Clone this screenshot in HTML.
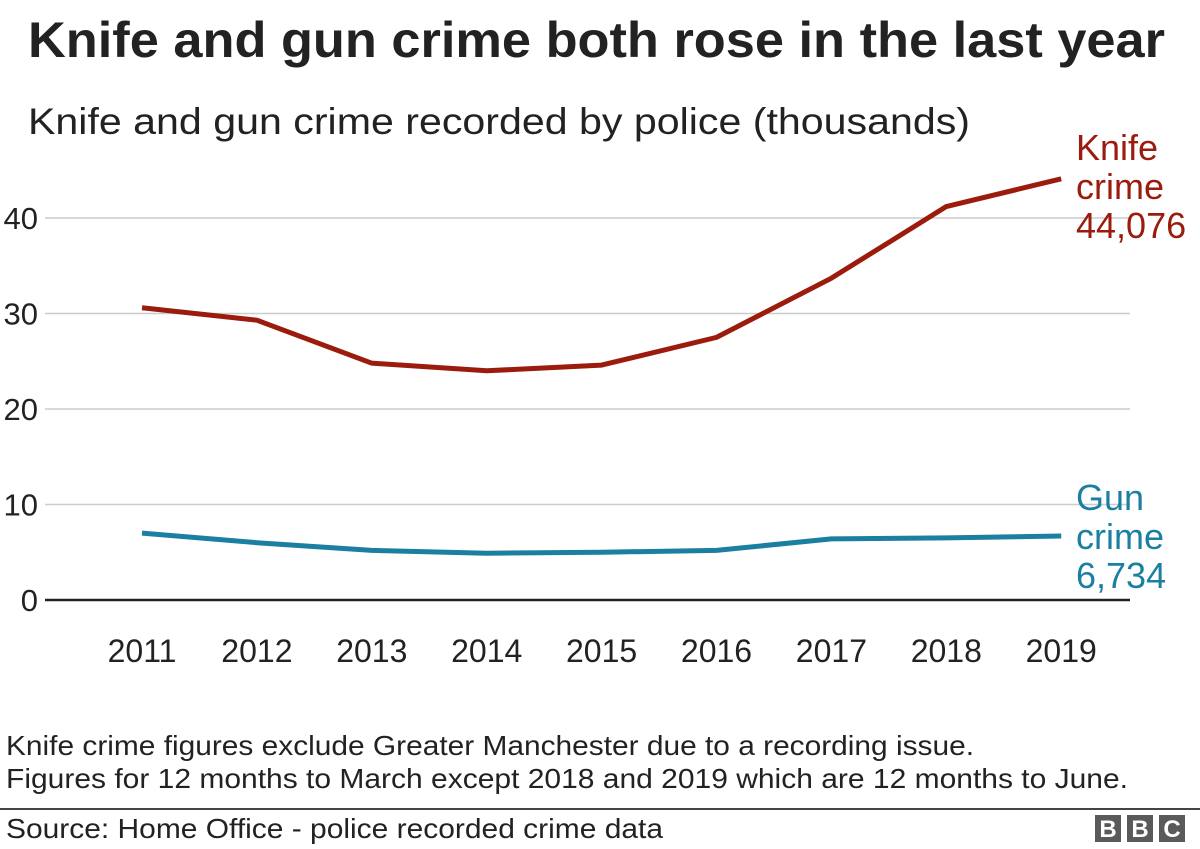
<!DOCTYPE html>
<html><head><meta charset="utf-8"><style>
body{margin:0;width:1200px;height:844px;background:#fff;overflow:hidden;font-family:"Liberation Sans",Arial,sans-serif}
</style></head><body>
<svg width="1200" height="844" font-family="Liberation Sans, Arial, sans-serif">
<text x="28" y="57" font-size="50" font-weight="bold" fill="#222" textLength="1137" lengthAdjust="spacingAndGlyphs">Knife and gun crime both rose in the last year</text>
<text x="28" y="134" font-size="37" fill="#222" textLength="942" lengthAdjust="spacingAndGlyphs">Knife and gun crime recorded by police (thousands)</text>
<g id="grid"></g><g id="xt"></g><g id="lines"></g>
<text x="1076" y="160" font-size="36" fill="#9b1b0d"><tspan x="1076">Knife</tspan><tspan x="1076" dy="39">crime</tspan><tspan x="1076" dy="39">44,076</tspan></text>
<text x="1076" y="510" font-size="36" fill="#1a7fa0"><tspan x="1076">Gun</tspan><tspan x="1076" dy="39">crime</tspan><tspan x="1076" dy="39">6,734</tspan></text>
<text x="6" y="755" font-size="28" fill="#222" textLength="968" lengthAdjust="spacingAndGlyphs">Knife crime figures exclude Greater Manchester due to a recording issue.</text>
<text x="6" y="788" font-size="28" fill="#222" textLength="1122" lengthAdjust="spacingAndGlyphs">Figures for 12 months to March except 2018 and 2019 which are 12 months to June.</text>
<line x1="0" y1="809" x2="1200" y2="809" stroke="#444" stroke-width="2"/>
<text x="6" y="838" font-size="28" fill="#222" textLength="657" lengthAdjust="spacingAndGlyphs">Source: Home Office - police recorded crime data</text>
<g font-weight="bold" font-size="24" fill="#fff" text-anchor="middle">
<rect x="1095" y="815" width="26" height="27" fill="#5a5a5a"/><text x="1108" y="837">B</text>
<rect x="1127" y="815" width="26" height="27" fill="#5a5a5a"/><text x="1140" y="837">B</text>
<rect x="1159" y="815" width="26" height="27" fill="#5a5a5a"/><text x="1172" y="837">C</text>
</g>
</svg>
<script>
const years=[2011,2012,2013,2014,2015,2016,2017,2018,2019];
const knife=[30.6,29.3,24.8,24.0,24.6,27.5,33.7,41.2,44.1];
const gun=[7.0,6.0,5.2,4.9,5.0,5.2,6.4,6.5,6.7];
const yTicks=[0,10,20,30,40];
const NS='http://www.w3.org/2000/svg';
const xS=i=>142+i*114.9;
const yS=v=>600-v*9.55;
function mk(t,a,p){const e=document.createElementNS(NS,t);for(const k in a)e.setAttribute(k,a[k]);p.appendChild(e);return e;}
const g=document.getElementById('grid');
yTicks.forEach(v=>{
 const l=mk('line',{x1:45,x2:1130,y1:yS(v),y2:yS(v),stroke:v?'#ccc':'#222','stroke-width':v?1.5:2.5},g);
 
 
 const t=mk('text',{x:38,y:yS(v)+11,'font-size':31,fill:'#222','text-anchor':'end'},g);t.textContent=v;
 
 
});
const xt=document.getElementById('xt');
years.forEach((y,i)=>{const t=mk('text',{x:xS(i),y:662,'font-size':32,fill:'#222','text-anchor':'middle'},xt);t.textContent=y;
 
 });
const L=document.getElementById('lines');
[[knife,'#9b1b0d','knife-line'],[gun,'#1a7fa0','gun-line']].forEach(([d,c,n])=>{
 const p=mk('path',{d:d.map((v,i)=>(i?'L':'M')+xS(i)+','+yS(v)).join(''),fill:'none',stroke:c,'stroke-width':5,'stroke-linejoin':'round'},L);
 
 
});
</script>
</body></html>
